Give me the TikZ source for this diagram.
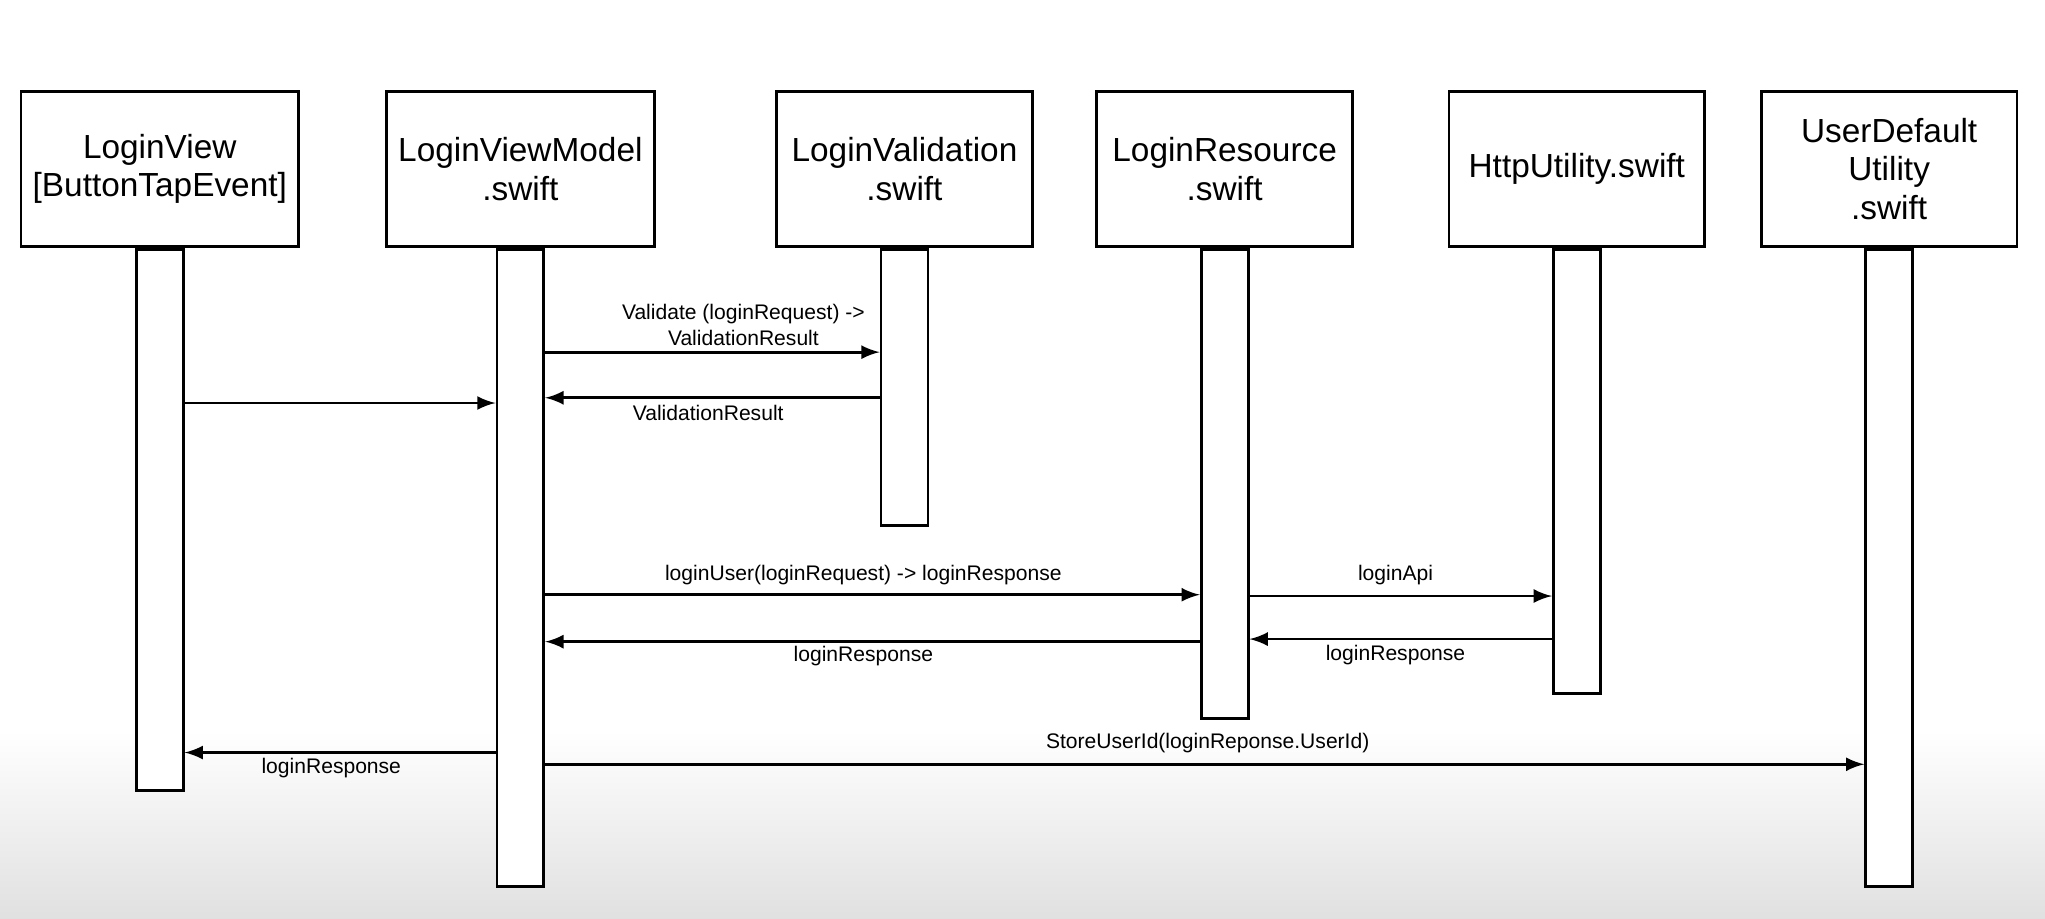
\documentclass[tikz,border=0pt]{standalone}
\usepackage{fontspec}
\setmainfont{Liberation Sans}
\usetikzlibrary{positioning}
\tikzset{
    head/.style = {
        draw, thick, minimum width=2.556cm, minimum height=1.552cm,
        align=center, font=\fontsize{9.5}{11}\selectfont
    },
    bar/.style = {
        draw, thick, fill=white, minimum width=0.469cm, anchor=north
    },
    msg/.style = {
        thick, -latex
    },
    lbl/.style = {
        font=\fontsize{6}{7.4}\selectfont, align=center
    }
}

\begin{document}
\begin{tikzpicture}[x=0.01304cm, y=-0.01304cm]
    \useasboundingbox (0,0) rectangle (1568,704);
    \fill[white] (0,0) rectangle (1568,560);
    \shade[top color=white, bottom color=black!12] (0,560) rectangle (1568,704);

    % Draw all heads
    \node[head] (h1) at (122.5,129.5) {LoginView\\{[ButtonTapEvent]}};
    \node[head] (h2) at (399,129.5) {LoginViewModel\\.swift};
    \node[head] (h3) at (693.5,129.5) {LoginValidation\\.swift};
    \node[head] (h4) at (939,129.5) {LoginResource\\.swift};
    \node[head] (h5) at (1209,129.5) {HttpUtility.swift};
    \node[head] (h6) at (1448.5,129.5) {UserDefault\\Utility\\.swift};

    % Draw bars
    \node[bar, minimum height=5.412cm] (b1) at (h1.south) {};
    \node[bar, minimum height=6.377cm] (b2) at (h2.south) {};
    \node[bar, minimum height=2.765cm] (b3) at (h3.south) {};
    \node[bar, minimum height=4.694cm] (b4) at (h4.south) {};
    \node[bar, minimum height=4.447cm] (b5) at (h5.south) {};
    \node[bar, minimum height=6.377cm] (b6) at (h6.south) {};

    % Draw messages
    \coordinate (m1) at (0,309);
    \coordinate (m2) at (0,270);
    \coordinate (m3) at (0,305);
    \coordinate (m4) at (0,456);
    \coordinate (m5) at (0,457);
    \coordinate (m6) at (0,490);
    \coordinate (m7) at (0,492);
    \coordinate (m8) at (0,577);
    \coordinate (m9) at (0,586);

    \draw[msg] (b1.east |- m1) -- (b2.west |- m1);
    \draw[msg] (b2.east |- m2) -- (b3.west |- m2);
    \draw[msg] (b3.west |- m3) -- (b2.east |- m3);
    \draw[msg] (b2.east |- m4) -- (b4.west |- m4);
    \draw[msg] (b4.east |- m5) -- (b5.west |- m5);
    \draw[msg] (b5.west |- m6) -- (b4.east |- m6);
    \draw[msg] (b4.west |- m7) -- (b2.east |- m7);
    \draw[msg] (b2.west |- m8) -- (b1.east |- m8);
    \draw[msg] (b2.east |- m9) -- (b6.west |- m9);

    % Draw labels
    \node[lbl] (l2) at (570,249) {Validate (loginRequest) ->\\ValidationResult};
    \node[lbl] (l3) at (543,317) {ValidationResult};
    \node[lbl] (l4) at (662,441) {loginUser(loginRequest) -> loginResponse};
    \node[lbl] (l5) at (1070,441) {loginApi};
    \node[lbl] (l6) at (1070,502) {loginResponse};
    \node[lbl] (l7) at (662,503) {loginResponse};
    \node[lbl] (l8) at (254,589) {loginResponse};
    \node[lbl] (l9) at (926,570) {StoreUserId(loginReponse.UserId)};
\end{tikzpicture}
\end{document}
